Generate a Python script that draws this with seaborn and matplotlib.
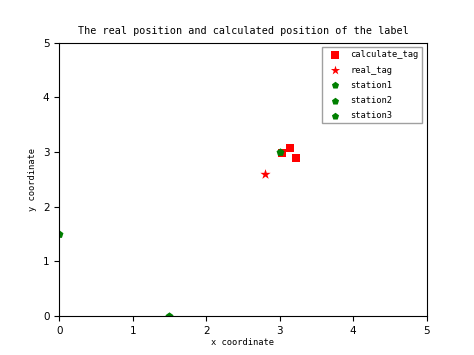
import matplotlib
matplotlib.use("Agg")
import matplotlib.pyplot as plt
import seaborn as sns

calc_x = [3.14, 3.22, 3.03]
calc_y = [3.08, 2.89, 2.98]
real_x = [2.80]
real_y = [2.60]
station_names = ["station1", "station2", "station3"]
station_x = [0.0, 1.5, 3.0]
station_y = [1.5, 0.0, 3.0]

mono = ["DejaVu Sans Mono"]
fig, ax = plt.subplots(figsize=(4.74, 3.55), dpi=100)

sns.scatterplot(x=calc_x, y=calc_y, marker="s", color="red", s=36, linewidth=0, ax=ax, label="calculate_tag")
sns.scatterplot(x=real_x, y=real_y, marker="*", color="red", s=60, linewidth=0, ax=ax, label="real_tag")
for name, sx, sy in zip(station_names, station_x, station_y):
    sns.scatterplot(x=[sx], y=[sy], marker="p", color="green", s=36, linewidth=0, ax=ax, label=name)

ax.set_xlim(0, 5)
ax.set_ylim(0, 5)
ax.set_xticks(range(6))
ax.set_yticks(range(6))
ax.set_title("The real position and calculated position of the label", family=mono, fontsize=7.3)
ax.set_xlabel("x coordinate", family=mono, fontsize=6.3, labelpad=2)
ax.set_ylabel("y coordinate", family=mono, fontsize=6.3)
ax.tick_params(labelsize=7.5)
leg = ax.legend(loc="upper right", prop={"family": mono, "size": 6.3},
                fancybox=False, edgecolor="#888888", markerscale=0.9, labelspacing=0.7)
fig.savefig("out.png", dpi=100)
